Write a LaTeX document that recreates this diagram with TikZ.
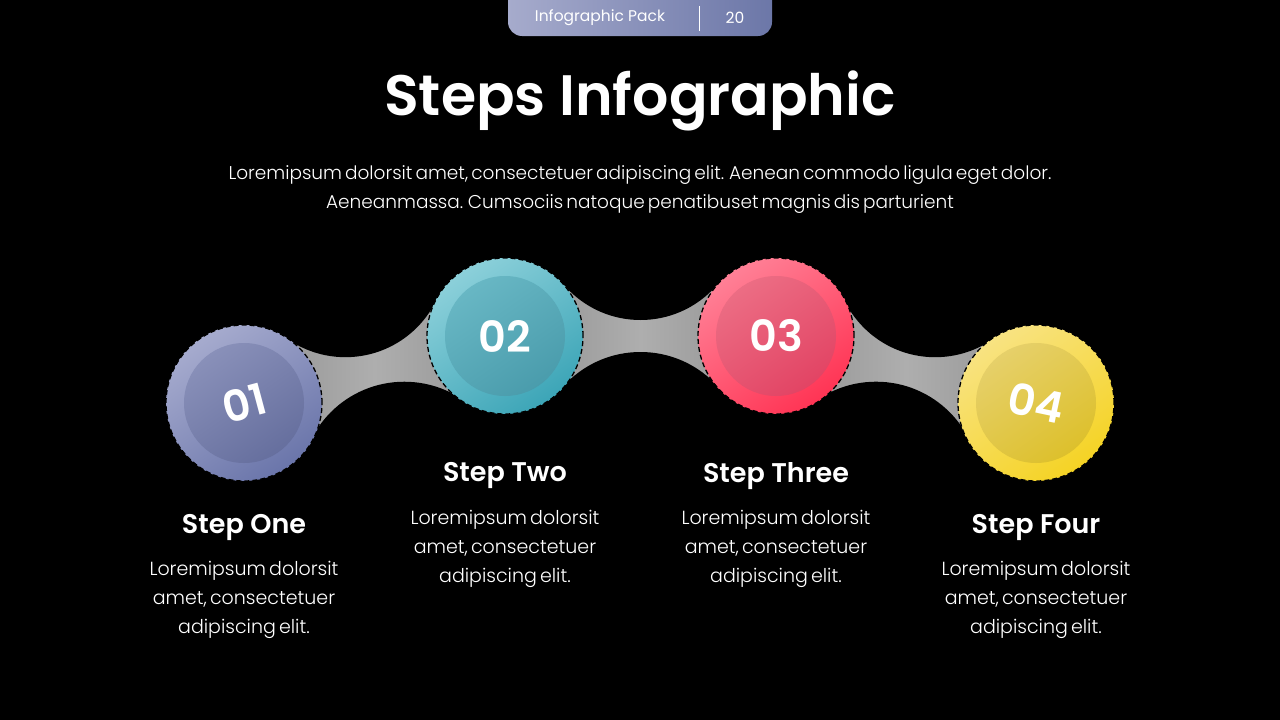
\documentclass[tikz,border=0pt]{standalone}
\usepackage{fontspec}
\setmainfont{Poppins}
\newfontfamily\lightfont{Poppins Light}[WordSpace=0.6]
\newfontfamily\semifont{Poppins SemiBold}
\usetikzlibrary{calc}
\definecolor{bandmid}{HTML}{AEAEAE}
\definecolor{bandend}{HTML}{8E8E8E}
\definecolor{tabL}{HTML}{A6ABCC}
\definecolor{tabR}{HTML}{6C77A8}
\definecolor{oA1}{HTML}{A6ABCE}\definecolor{oA2}{HTML}{6A75AA}
\definecolor{iA1}{HTML}{8990B9}\definecolor{iA2}{HTML}{666F9E}
\definecolor{oB1}{HTML}{8CD0DA}\definecolor{oB2}{HTML}{3CA5B7}
\definecolor{iB1}{HTML}{68B7C4}\definecolor{iB2}{HTML}{4A9CAC}
\definecolor{oC1}{HTML}{FF8096}\definecolor{oC2}{HTML}{FF3454}
\definecolor{iC1}{HTML}{EC6D84}\definecolor{iC2}{HTML}{E24464}
\definecolor{oD1}{HTML}{F8E382}\definecolor{oD2}{HTML}{F5D324}
\definecolor{iD1}{HTML}{E6D06A}\definecolor{iD2}{HTML}{DDC02C}
\newcommand\stepdisc[6]{%
  \shade[top color=#2, bottom color=#3, shading angle=35] (#1) circle[radius=78pt];
  \draw[dashring] (#1) circle[radius=78pt];
  \shade[top color=#4, bottom color=#5, shading angle=35] (#1) circle[radius=60pt];
  \node[numtext, rotate=#6] (n#1) at (#1) {\csname num#1\endcsname};}
\newcommand\bandlink[2]{%
  \coordinate (m#1#2) at ($(#1)!0.5!(#2)$);
  \shade[left color=bandend, right color=bandend, middle color=bandmid]
    ($(#1)!50pt!90:(#2)$) -- ($(#2)!50pt!-90:(#1)$) -- ($(#2)!50pt!90:(#1)$) -- ($(#1)!50pt!-90:(#2)$) -- cycle;
  \fill[black] ($(m#1#2)!117pt!90:(#2)$) circle[radius=101pt];
  \fill[black] ($(m#1#2)!120pt!-90:(#2)$) circle[radius=104pt];}
\def\numca{01}\def\numcb{02}\def\numcc{03}\def\numcd{04}
\begin{document}
\begin{tikzpicture}[x=1pt,y=-1pt,
  dashring/.style={draw=black, line width=1.3pt, dash pattern=on 5pt off 3pt},
  numtext/.style={text=white, font=\semifont\fontsize{43}{43}\selectfont},
  steptitle/.style={text=white, font=\semifont\fontsize{27}{30}\selectfont},
  stepbody/.style={text=white, align=center, font=\lightfont\fontsize{19}{29}\selectfont},
  subbody/.style={text=white, align=center, font=\lightfont\fontsize{18.5}{29}\selectfont},
  tabtext/.style={text=white, font=\fontsize{15.5}{18}\selectfont}]
\useasboundingbox (0,0) rectangle (1280,720);
\fill[black] (0,0) rectangle (1280,720);
\clip (0,0) rectangle (1280,720);
% tab
\shade[left color=tabL, right color=tabR, rounded corners=14pt] (508,-30) rectangle (772,36);
\draw[white, line width=0.8pt] (699,6) -- (699,31);
\node[tabtext] (tab1) at (600,18) {Infographic Pack};
\node[tabtext] (tab2) at (735,18) {20};
% step centres
\coordinate (ca) at (244,403);
\coordinate (cb) at (505,336);
\coordinate (cc) at (776,336);
\coordinate (cd) at (1036,403);
% connectors
\bandlink{ca}{cb}
\bandlink{cb}{cc}
\bandlink{cc}{cd}
% title and subtitle
\node[text=white, font=\semifont\fontsize{57}{64}\selectfont] (title) at (640,101) {Steps Infographic};
\node[subbody] (sub) at (640,190) {Loremipsum dolorsit amet, consectetuer adipiscing elit. Aenean commodo ligula eget dolor.\\Aeneanmassa. Cumsociis natoque penatibuset magnis dis parturient};
% discs
\stepdisc{ca}{oA1}{oA2}{iA1}{iA2}{15}
\stepdisc{cb}{oB1}{oB2}{iB1}{iB2}{0}
\stepdisc{cc}{oC1}{oC2}{iC1}{iC2}{0}
\stepdisc{cd}{oD1}{oD2}{iD1}{iD2}{-12}
% labels
\node[steptitle] (t1) at (244,527) {Step One};
\node[stepbody] (b1) at (244,600) {Loremipsum dolorsit\\amet, consectetuer\\adipiscing elit.};
\node[steptitle] (t2) at (505,476) {Step Two};
\node[stepbody] (b2) at (505,549) {Loremipsum dolorsit\\amet, consectetuer\\adipiscing elit.};
\node[steptitle] (t3) at (776,476) {Step Three};
\node[stepbody] (b3) at (776,549) {Loremipsum dolorsit\\amet, consectetuer\\adipiscing elit.};
\node[steptitle] (t4) at (1036,527) {Step Four};
\node[stepbody] (b4) at (1036,600) {Loremipsum dolorsit\\amet, consectetuer\\adipiscing elit.};
\end{tikzpicture}
\end{document}
